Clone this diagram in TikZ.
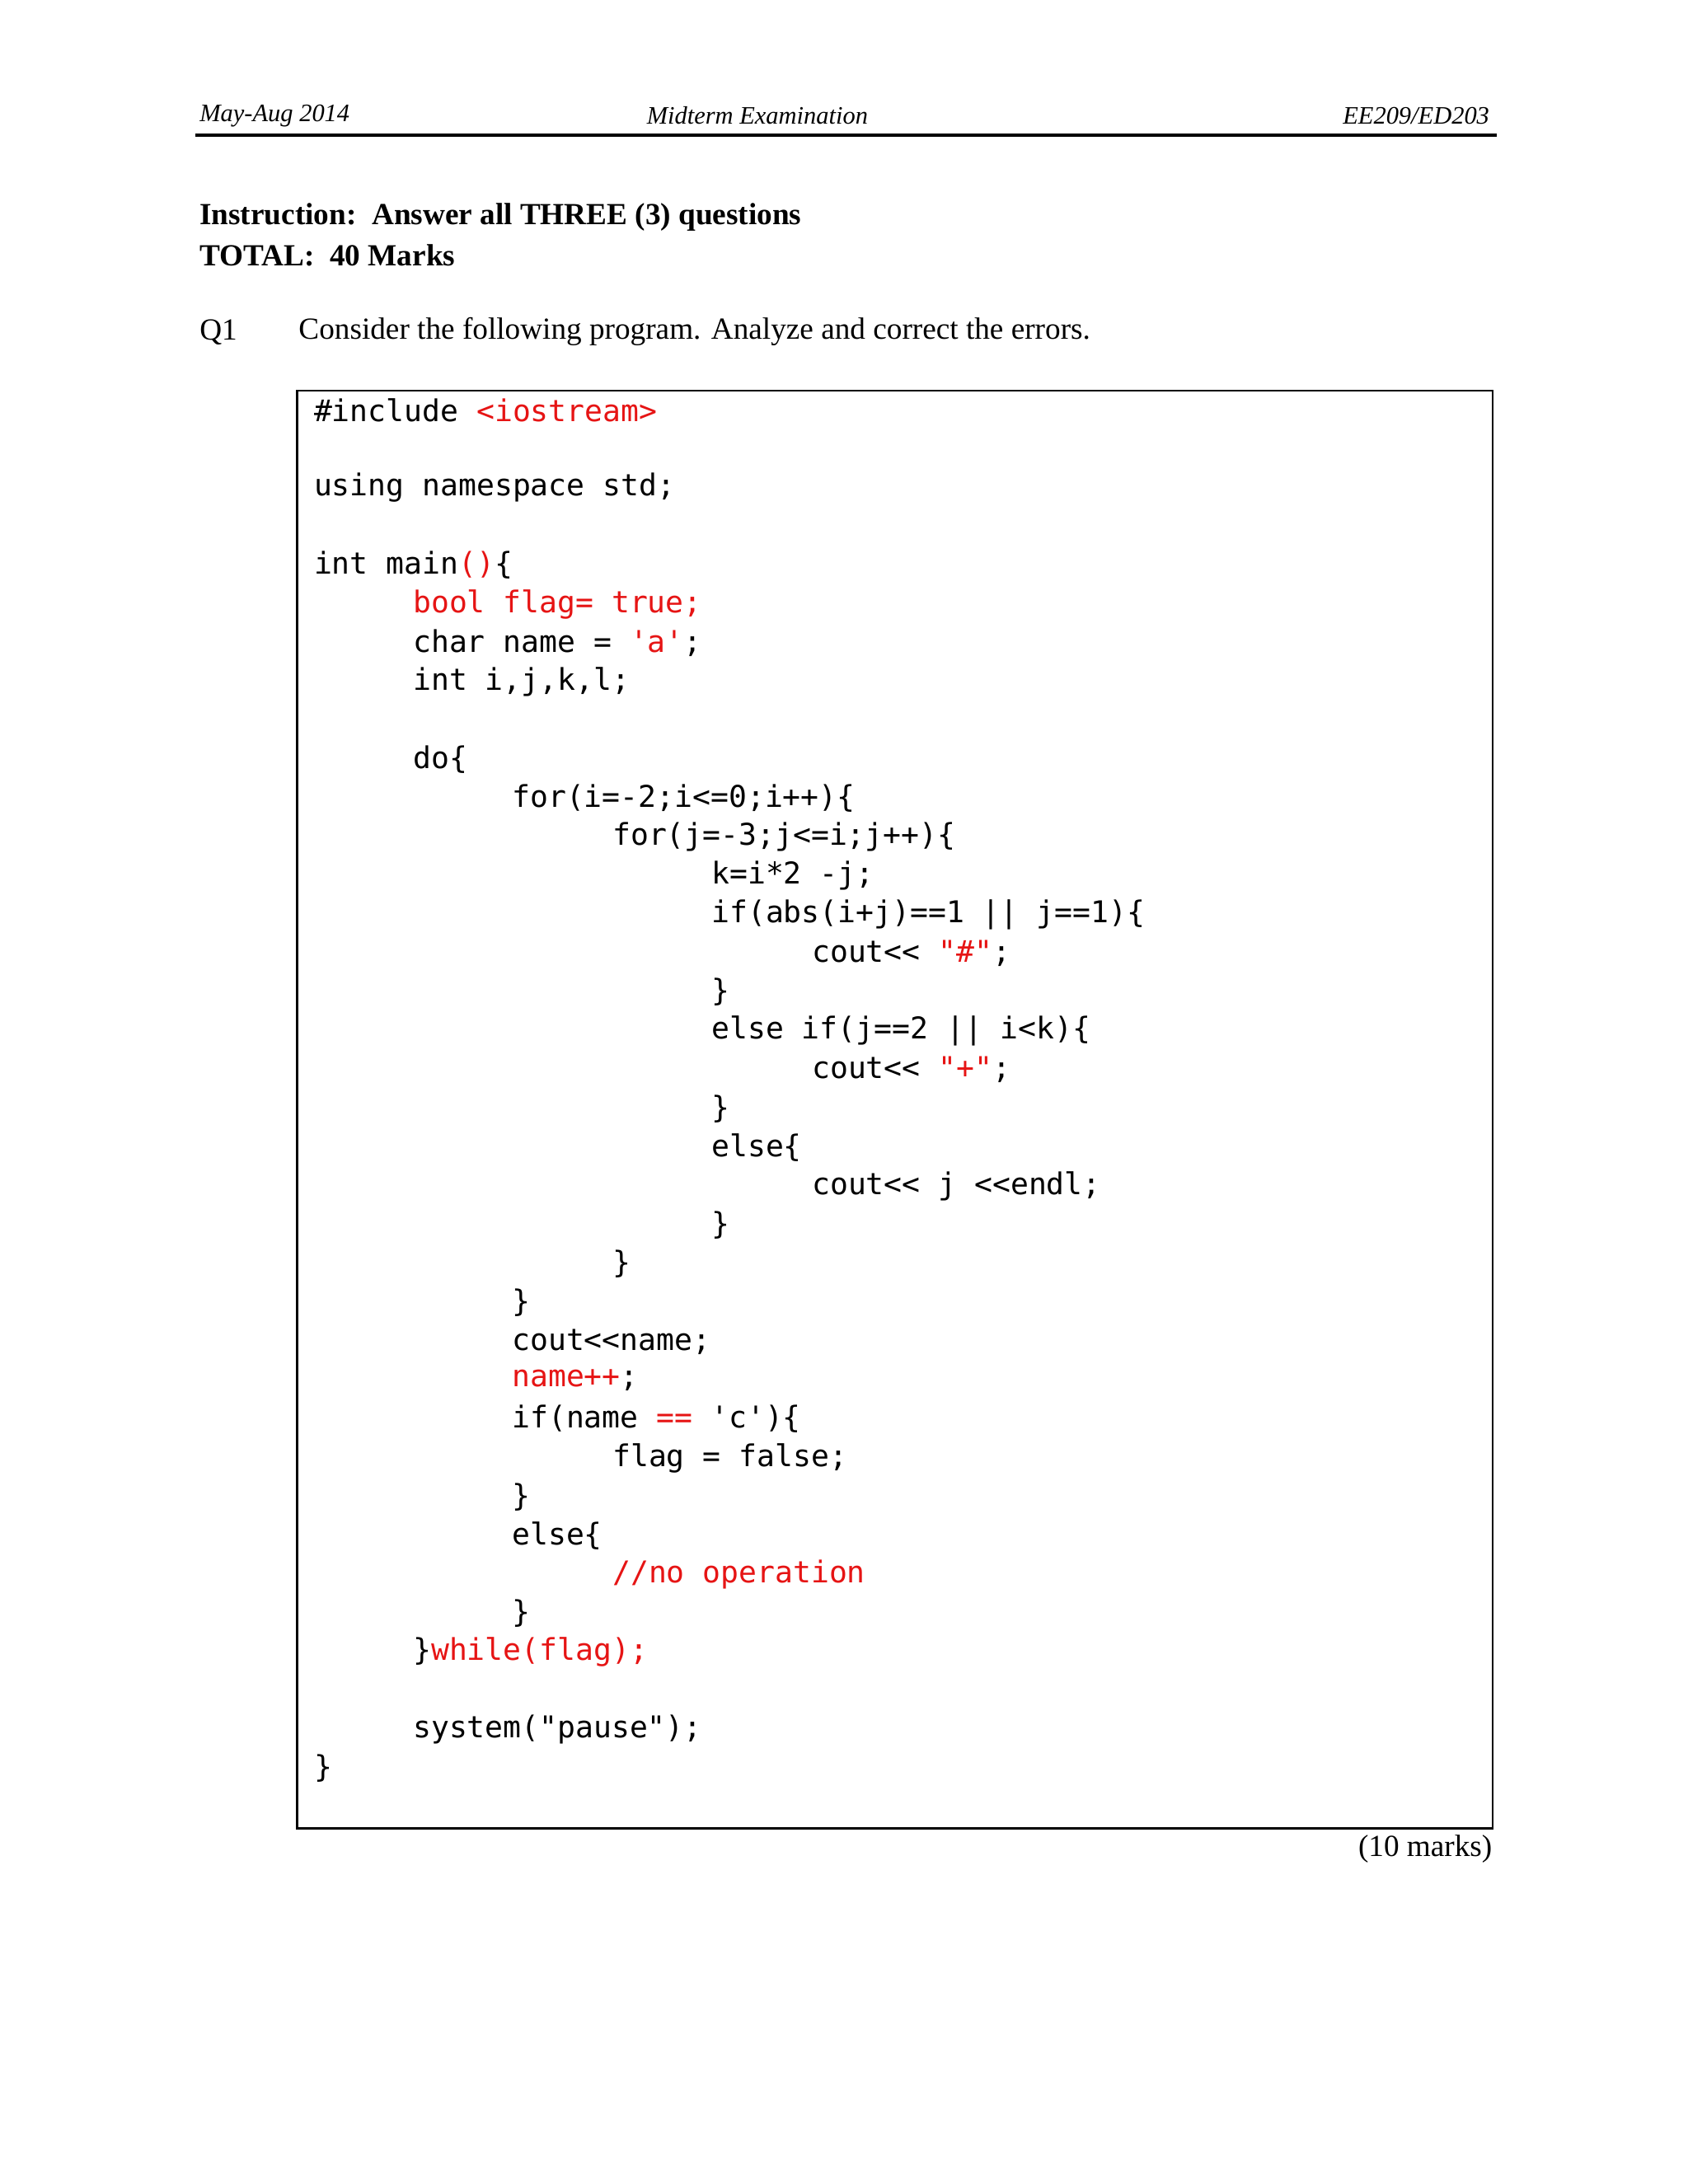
\documentclass[tikz,border=0pt]{standalone}
\usepackage{fontspec}
\setmainfont{Liberation Serif}
\setmonofont{DejaVu Sans Mono}
\definecolor{cred}{RGB}{230,20,20}
\begin{document}
\begin{tikzpicture}[x=1pt,y=-1pt,
  hdr/.style={font=\fontsize{18}{20}\selectfont\itshape,inner sep=0pt},
  txt/.style={font=\fontsize{22}{24}\selectfont,inner sep=0pt,anchor=west},
  code/.style={font=\fontsize{21.5}{24}\ttfamily,inner sep=0pt,anchor=west}]
\useasboundingbox[fill=white] (0,0) rectangle (1210,1566);
\node[hdr,anchor=west] (h1) at (143,83) {May-Aug 2014};
\node[hdr] (h2) at (543,83) {Midterm Examination};
\node[hdr,anchor=east] (h3) at (1068,83) {EE209/ED203};
\draw[line width=2.5pt] (140,97) -- (1073,97);
\node[txt,font=\fontsize{22}{24}\selectfont\bfseries] (i1) at (143,156) {Instruction:\ \ Answer all THREE (3) questions};
\node[txt,font=\fontsize{22}{24}\selectfont\bfseries] (i2) at (143,183) {TOTAL:\ \ 40 Marks};
\node[txt] (q) at (143,238) {Q1};
\node[txt] (qt) at (214,238) {Consider the following program. Analyze and correct the errors.};
\draw[line width=1.3pt] (213,280) rectangle (1070,1311);
\def\ln#1{294+27.83*#1}
\node[code] (c0) at (225,{\ln{0}}) {\#include \textcolor{cred}{<iostream>}};
\node[code] (c2) at (225,{\ln{2}}) {using namespace std;};
\node[code] (c4) at (225,{\ln{4}}) {int main\textcolor{cred}{()}\{};
\node[code] (c5) at (296,{\ln{5}}) {\textcolor{cred}{bool flag= true;}};
\node[code] (c6) at (296,{\ln{6}}) {char name = \textcolor{cred}{'a'};};
\node[code] (c7) at (296,{\ln{7}}) {int i,j,k,l;};
\node[code] (c9) at (296,{\ln{9}}) {do\{};
\node[code] (c10) at (367,{\ln{10}}) {for(i=-2;i<=0;i++)\{};
\node[code] (c11) at (439,{\ln{11}}) {for(j=-3;j<=i;j++)\{};
\node[code] (c12) at (510,{\ln{12}}) {k=i*2 -j;};
\node[code] (c13) at (510,{\ln{13}}) {if(abs(i+j)==1 || j==1)\{};
\node[code] (c14) at (582,{\ln{14}}) {cout<< \textcolor{cred}{"\#"};};
\node[code] (c15) at (510,{\ln{15}}) {\}};
\node[code] (c16) at (510,{\ln{16}}) {else if(j==2 || i<k)\{};
\node[code] (c17) at (582,{\ln{17}}) {cout<< \textcolor{cred}{"+"};};
\node[code] (c18) at (510,{\ln{18}}) {\}};
\node[code] (c19) at (510,{\ln{19}}) {else\{};
\node[code] (c20) at (582,{\ln{20}}) {cout<< j <<endl;};
\node[code] (c21) at (510,{\ln{21}}) {\}};
\node[code] (c22) at (439,{\ln{22}}) {\}};
\node[code] (c23) at (367,{\ln{23}}) {\}};
\node[code] (c24) at (367,{\ln{24}}) {cout<<name;};
\node[code] (c25) at (367,{\ln{25}}) {\textcolor{cred}{name++};};
\node[code] (c26) at (367,{\ln{26}}) {if(name \textcolor{cred}{==} 'c')\{};
\node[code] (c27) at (439,{\ln{27}}) {flag = false;};
\node[code] (c28) at (367,{\ln{28}}) {\}};
\node[code] (c29) at (367,{\ln{29}}) {else\{};
\node[code] (c30) at (439,{\ln{30}}) {\textcolor{cred}{//no operation}};
\node[code] (c31) at (367,{\ln{31}}) {\}};
\node[code] (c32) at (296,{\ln{32}}) {\}\textcolor{cred}{while(flag);}};
\node[code] (c34) at (296,{\ln{34}}) {system("pause");};
\node[code] (c35) at (225,{\ln{35}}) {\}};
\node[txt,anchor=east] (m) at (1070,1326) {(10 marks)};
\end{tikzpicture}
\end{document}
